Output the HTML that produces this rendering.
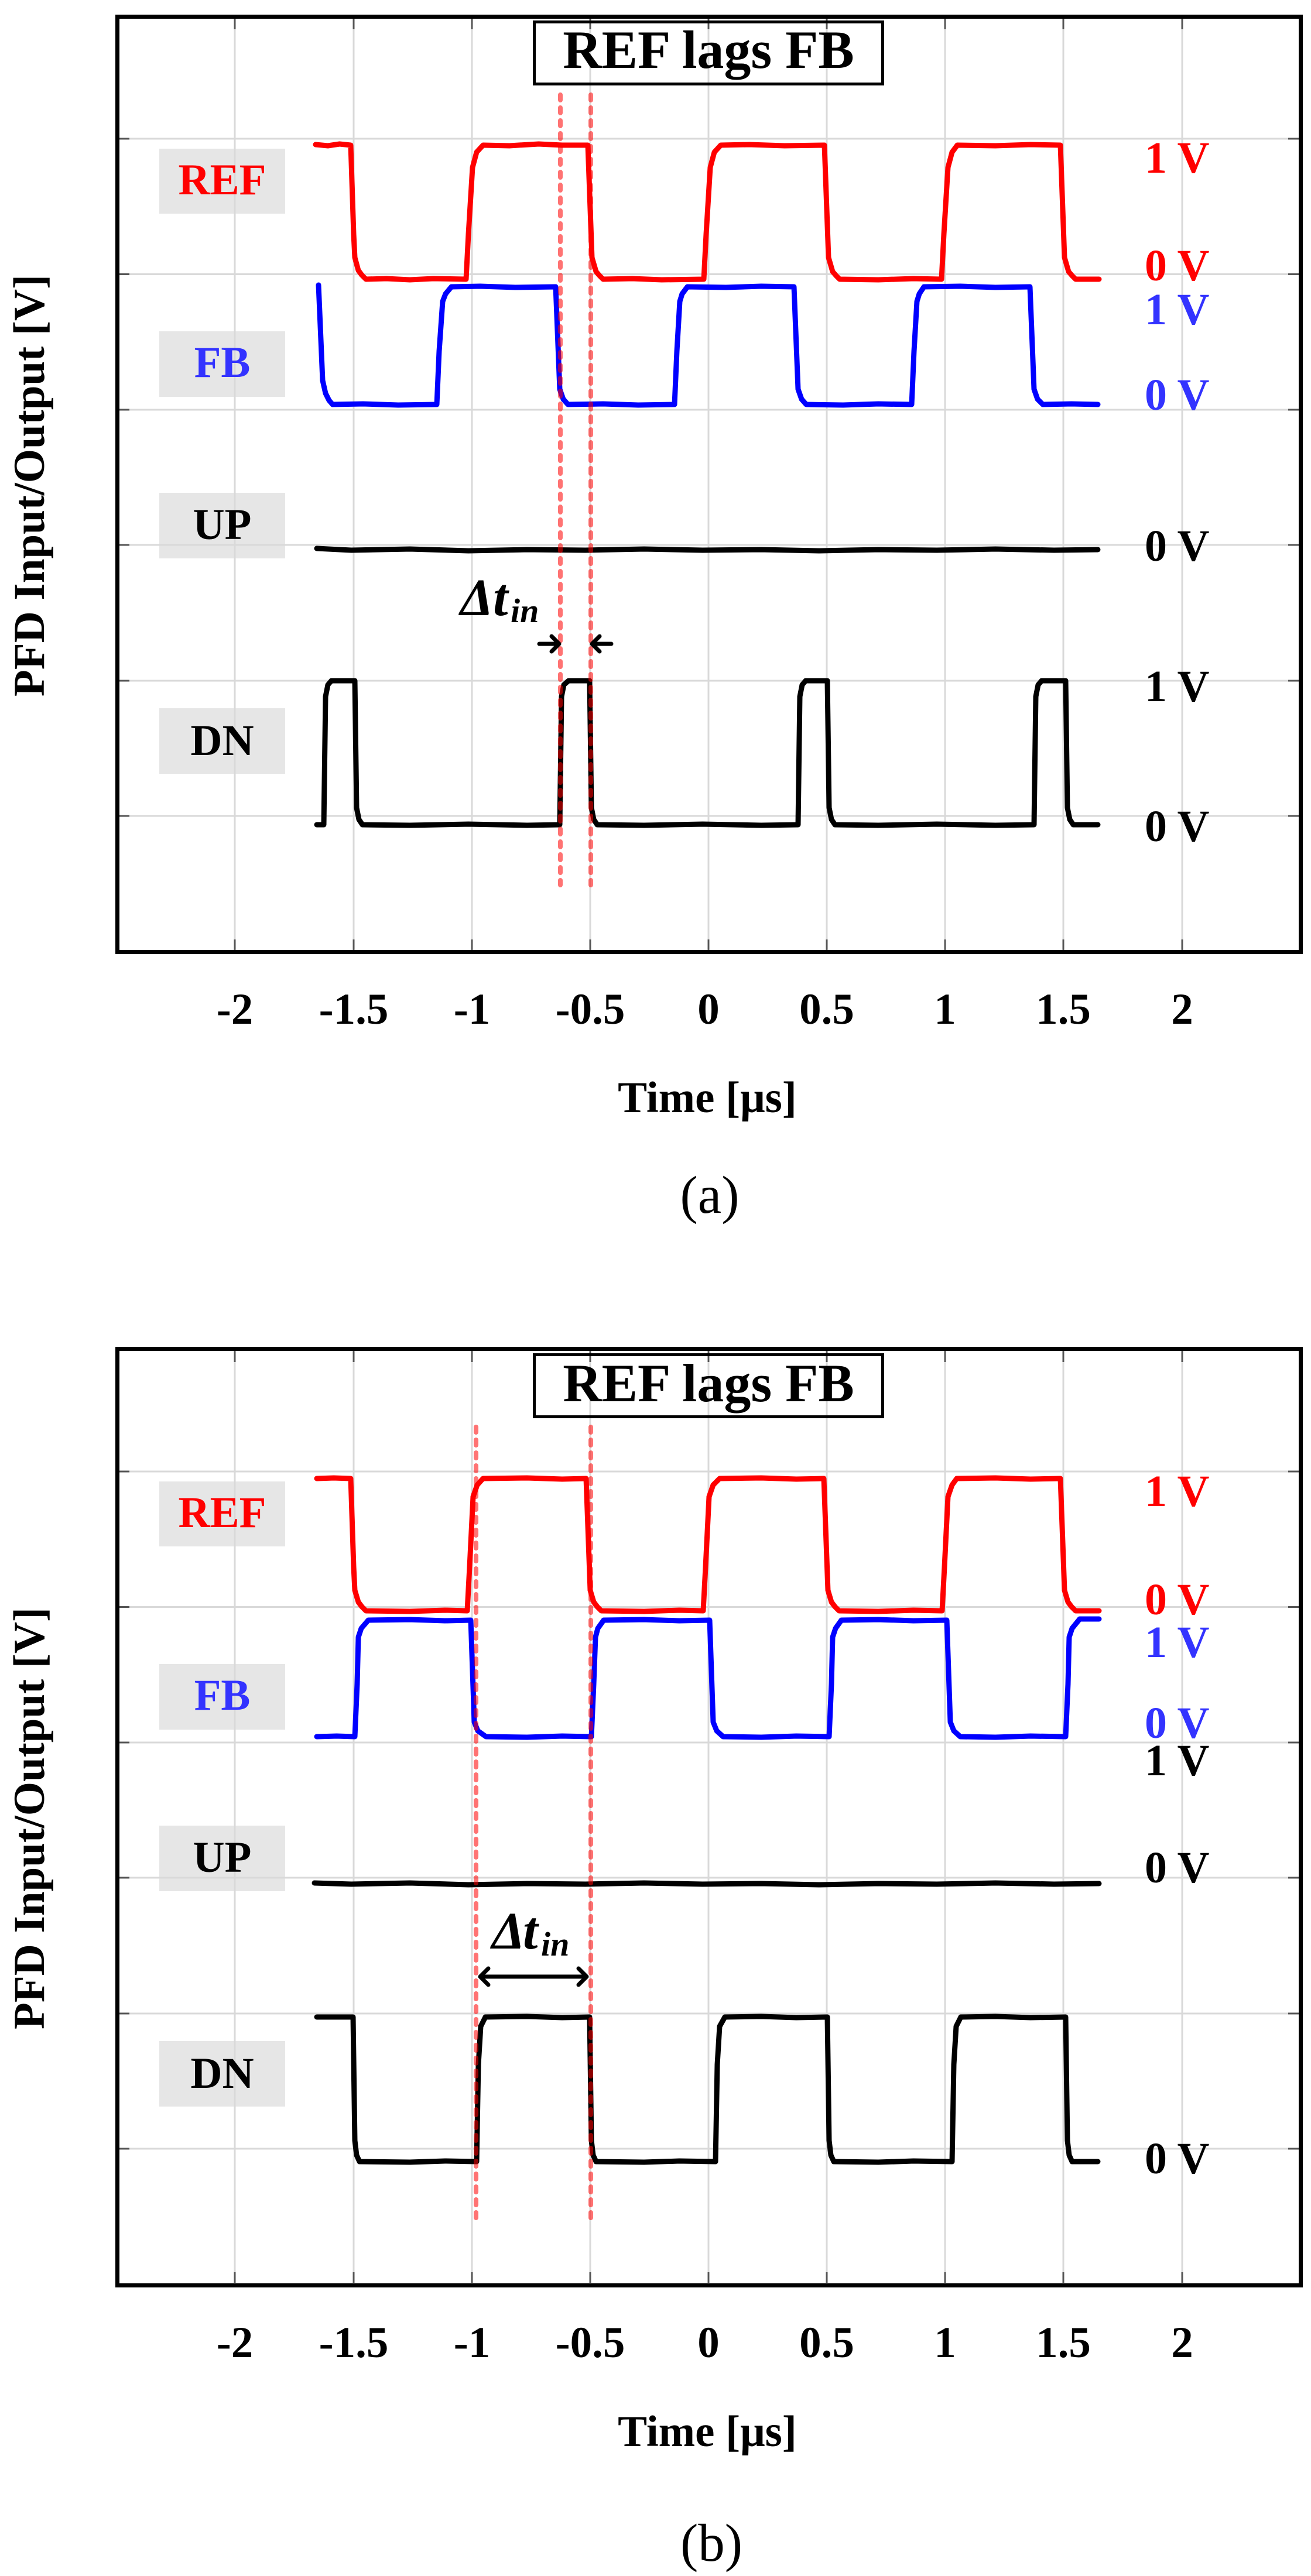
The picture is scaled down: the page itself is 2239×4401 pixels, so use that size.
<!DOCTYPE html>
<html>
<head>
<meta charset="utf-8">
<style>
  html,body{margin:0;padding:0;background:#fff;}
  svg{display:block;}
  text{font-family:"Liberation Serif","Times New Roman",serif;}
</style>
</head>
<body>
<svg xmlns="http://www.w3.org/2000/svg" xmlns:xlink="http://www.w3.org/1999/xlink" width="2239" height="4401" viewBox="0 0 2239 4401">
  <rect x="0" y="0" width="2239" height="4401" fill="#fff"/>
  <defs>
    <g id="boxes">
      <rect x="272" y="254" width="215" height="111" fill="#e6e6e6"/>
      <rect x="272" y="566" width="215" height="112" fill="#e6e6e6"/>
      <rect x="272" y="842" width="215" height="112" fill="#e6e6e6"/>
      <rect x="272" y="1210" width="215" height="112" fill="#e6e6e6"/>
    </g>
    <g id="grid">
      <g stroke="#d9d9d9" stroke-width="3">
        <line x1="401" y1="31" x2="401" y2="1623"/>
        <line x1="604" y1="31" x2="604" y2="1623"/>
        <line x1="806" y1="31" x2="806" y2="1623"/>
        <line x1="1008" y1="31" x2="1008" y2="1623"/>
        <line x1="1210" y1="31" x2="1210" y2="1623"/>
        <line x1="1412" y1="31" x2="1412" y2="1623"/>
        <line x1="1614" y1="31" x2="1614" y2="1623"/>
        <line x1="1816" y1="31" x2="1816" y2="1623"/>
        <line x1="2019" y1="31" x2="2019" y2="1623"/>
        <line x1="204" y1="237" x2="2218" y2="237"/>
        <line x1="204" y1="468.5" x2="2218" y2="468.5"/>
        <line x1="204" y1="700" x2="2218" y2="700"/>
        <line x1="204" y1="931" x2="2218" y2="931"/>
        <line x1="204" y1="1163" x2="2218" y2="1163"/>
        <line x1="204" y1="1394" x2="2218" y2="1394"/>
      </g>
      <g stroke="#555" stroke-width="3">
        <path d="M401 31V50M604 31V50M806 31V50M1008 31V50M1210 31V50M1412 31V50M1614 31V50M1816 31V50M2019 31V50"/>
        <path d="M401 1623V1605M604 1623V1605M806 1623V1605M1008 1623V1605M1210 1623V1605M1412 1623V1605M1614 1623V1605M1816 1623V1605M2019 1623V1605"/>
        <path d="M204 237H221M204 468.5H221M204 700H221M204 931H221M204 1163H221M204 1394H221"/>
        <path d="M2218 237H2200M2218 468.5H2200M2218 700H2200M2218 931H2200M2218 1163H2200M2218 1394H2200"/>
      </g>
    </g>
  </defs>

  <!-- ================= PANEL (a) ================= -->
  <g>
    <use xlink:href="#boxes"/>
    <use xlink:href="#grid"/>

    <!-- REF -->
    <polyline fill="none" stroke="#ff0000" stroke-width="9" stroke-linejoin="round" stroke-linecap="round"
      points="539,247 560,249 580,246 599,248 604,400 606,440 612,462 618,470 625,477 660,476 700,478 740,476 796,477 800,400 807,286 814,260 825,248 870,249 920,246 960,248 1004,248 1011,440 1018,464 1024,471 1030,477 1080,476 1130,478 1202,477 1206,400 1213,286 1220,260 1231,248 1280,247 1340,249 1408,248 1415,440 1422,464 1428,471 1434,477 1500,478 1560,476 1608,477 1612,400 1619,286 1626,260 1635,248 1700,249 1760,247 1811,248 1818,440 1825,464 1831,471 1837,477 1877,477"/>
    <!-- FB -->
    <polyline fill="none" stroke="#0000ff" stroke-width="9" stroke-linejoin="round" stroke-linecap="round"
      points="544,487 551,650 556,672 562,684 568,691 620,690 680,692 746,691 750,600 756,515 761,502 771,490 820,489 880,491 949,490 956,665 962,682 970,691 1030,690 1090,692 1152,691 1156,600 1161,515 1165,502 1174,490 1240,491 1300,489 1356,490 1363,665 1369,682 1377,691 1440,692 1500,690 1557,691 1561,600 1566,515 1570,502 1578,490 1640,489 1700,491 1759,490 1766,665 1772,682 1781,691 1830,690 1875,691"/>
    <!-- UP -->
    <polyline fill="none" stroke="#000" stroke-width="9" stroke-linejoin="round" stroke-linecap="round"
      points="541,937 600,940 700,938 800,941 900,939 1000,940 1100,938 1200,940 1300,939 1400,941 1500,939 1600,940 1700,938 1800,940 1875,939"/>
    <!-- DN -->
    <polyline fill="none" stroke="#000" stroke-width="9" stroke-linejoin="round" stroke-linecap="round"
      points="541,1409 553,1409 556,1190 560,1170 566,1163 606,1163 609,1380 613,1400 619,1409 700,1410 800,1408 900,1410 956,1409 959,1190 963,1170 971,1163 1007,1163 1010,1380 1014,1400 1020,1409 1100,1410 1200,1408 1300,1410 1363,1409 1366,1190 1370,1170 1376,1163 1413,1163 1416,1380 1420,1400 1426,1409 1500,1410 1600,1408 1700,1410 1766,1409 1769,1190 1773,1170 1779,1163 1820,1163 1823,1380 1827,1400 1833,1409 1875,1409"/>

    <!-- dashed markers -->
    <g stroke="#ff0000" stroke-opacity="0.55" stroke-width="8" stroke-linecap="round" stroke-dasharray="9 13">
      <line x1="957" y1="162" x2="957" y2="1512"/>
      <line x1="1009" y1="162" x2="1009" y2="1512"/>
    </g>

    <!-- arrows -->
    <g stroke="#000" stroke-width="7" fill="none" stroke-linecap="round" stroke-linejoin="round">
      <line x1="921" y1="1100" x2="953" y2="1100"/>
      <polyline points="942,1087 955,1100 942,1113"/>
      <line x1="1044" y1="1100" x2="1013" y2="1100"/>
      <polyline points="1024,1087 1011,1100 1024,1113"/>
    </g>

    <!-- frame -->
    <rect x="200.5" y="28.5" width="2021" height="1598" fill="none" stroke="#000" stroke-width="7"/>

    <!-- title box -->
    <rect x="912.5" y="37.5" width="595" height="106" fill="none" stroke="#000" stroke-width="5"/>
    <text x="1210" y="116" font-size="92" font-weight="bold" text-anchor="middle" fill="#000">REF lags FB</text>

    <!-- channel labels -->
    <g font-size="75" font-weight="bold" text-anchor="middle">
      <text x="379.5" y="332" fill="#ff0000">REF</text>
      <text x="379.5" y="644" fill="#3333ff">FB</text>
      <text x="379.5" y="921" fill="#000">UP</text>
      <text x="379.5" y="1290" fill="#000">DN</text>
    </g>

    <!-- right level labels -->
    <g font-size="76" font-weight="bold">
      <text x="1955" y="295" fill="#ff0000">1 V</text>
      <text x="1955" y="479" fill="#ff0000">0 V</text>
      <text x="1955" y="554" fill="#3333ff">1 V</text>
      <text x="1955" y="700" fill="#3333ff">0 V</text>
      <text x="1955" y="958" fill="#000">0 V</text>
      <text x="1955" y="1198" fill="#000">1 V</text>
      <text x="1955" y="1437" fill="#000">0 V</text>
    </g>

    <!-- delta t label -->
    <text y="1051" font-size="90" font-weight="bold" font-style="italic" fill="#000"><tspan x="786">Δ</tspan><tspan x="842" font-size="92">t</tspan><tspan x="872" y="1063" font-size="58">in</tspan></text>

    <!-- x tick labels -->
    <g font-size="75" font-weight="bold" text-anchor="middle" fill="#000">
      <text x="401" y="1749">-2</text>
      <text x="604" y="1749">-1.5</text>
      <text x="806" y="1749">-1</text>
      <text x="1008" y="1749">-0.5</text>
      <text x="1210" y="1749">0</text>
      <text x="1412" y="1749">0.5</text>
      <text x="1614" y="1749">1</text>
      <text x="1816" y="1749">1.5</text>
      <text x="2019" y="1749">2</text>
    </g>
    <text x="1208" y="1900" font-size="75" font-weight="bold" text-anchor="middle" fill="#000">Time [μs]</text>
    <text transform="translate(75,829.5) rotate(-90)" x="0" y="0" font-size="75" font-weight="bold" text-anchor="middle" fill="#000">PFD Input/Output [V]</text>
  </g>

  <text x="1212" y="2072" font-size="91" text-anchor="middle" fill="#000">(a)</text>

  <!-- ================= PANEL (b) ================= -->
  <g transform="translate(0,2277)">
    <use xlink:href="#boxes"/>
    <use xlink:href="#grid"/>

    <!-- REF -->
    <polyline fill="none" stroke="#ff0000" stroke-width="9" stroke-linejoin="round" stroke-linecap="round"
      points="541,249 570,248 599,249 604,400 606,440 612,460 618,468 625,475 700,476 760,474 798,475 802,400 808,280 815,260 825,249 900,248 960,250 1001,249 1008,440 1014,460 1020,468 1027,475 1100,476 1160,474 1201,475 1205,400 1211,280 1218,260 1229,249 1300,248 1360,250 1407,249 1414,440 1420,460 1426,468 1433,475 1500,476 1560,474 1609,475 1613,400 1619,280 1626,260 1634,249 1700,248 1760,250 1811,249 1818,440 1824,460 1830,468 1837,475 1877,475"/>
    <!-- FB -->
    <polyline fill="none" stroke="#0000ff" stroke-width="9" stroke-linejoin="round" stroke-linecap="round"
      points="541,690 575,689 606,690 610,600 612,520 617,505 629,491 700,490 760,492 804,491 810,665 816,680 830,690 900,691 960,689 1010,690 1014,600 1017,520 1021,505 1031,491 1100,490 1160,492 1212,491 1218,665 1224,680 1235,690 1300,691 1360,689 1416,690 1420,600 1422,520 1427,505 1437,491 1500,490 1560,492 1617,491 1623,665 1629,680 1640,690 1700,691 1760,689 1820,690 1824,600 1826,520 1831,505 1844,489 1877,489"/>
    <!-- UP -->
    <polyline fill="none" stroke="#000" stroke-width="9" stroke-linejoin="round" stroke-linecap="round"
      points="537,940 600,942 700,940 800,943 900,941 1000,942 1100,940 1200,942 1300,941 1400,943 1500,941 1600,942 1700,940 1800,942 1877,941"/>
    <!-- DN -->
    <polyline fill="none" stroke="#000" stroke-width="9" stroke-linejoin="round" stroke-linecap="round"
      points="541,1169 603,1169 606,1380 609,1405 614,1416 700,1417 760,1415 814,1416 817,1250 821,1185 829,1169 900,1168 960,1170 1007,1169 1010,1380 1013,1405 1018,1416 1100,1417 1160,1415 1222,1416 1225,1250 1229,1185 1238,1169 1300,1168 1360,1170 1413,1169 1416,1380 1419,1405 1424,1416 1500,1417 1560,1415 1626,1416 1629,1250 1633,1185 1641,1169 1700,1168 1760,1170 1820,1169 1823,1380 1826,1405 1831,1416 1875,1416"/>

    <!-- dashed markers -->
    <g stroke="#ff0000" stroke-opacity="0.55" stroke-width="8" stroke-linecap="round" stroke-dasharray="9 13">
      <line x1="813" y1="161" x2="813" y2="1514"/>
      <line x1="1009" y1="161" x2="1009" y2="1514"/>
    </g>

    <!-- double arrow -->
    <g stroke="#000" stroke-width="7" fill="none" stroke-linecap="round" stroke-linejoin="round">
      <line x1="821" y1="1100" x2="1001" y2="1100"/>
      <polyline points="834,1086 820,1100 834,1114"/>
      <polyline points="988,1086 1002,1100 988,1114"/>
    </g>

    <!-- frame -->
    <rect x="200.5" y="27.5" width="2021" height="1600" fill="none" stroke="#000" stroke-width="7"/>

    <!-- title box -->
    <rect x="912.5" y="37.5" width="595" height="106" fill="none" stroke="#000" stroke-width="5"/>
    <text x="1210" y="117" font-size="92" font-weight="bold" text-anchor="middle" fill="#000">REF lags FB</text>

    <!-- channel labels -->
    <g font-size="75" font-weight="bold" text-anchor="middle">
      <text x="379.5" y="332" fill="#ff0000">REF</text>
      <text x="379.5" y="644" fill="#3333ff">FB</text>
      <text x="379.5" y="921" fill="#000">UP</text>
      <text x="379.5" y="1290" fill="#000">DN</text>
    </g>

    <!-- right level labels -->
    <g font-size="76" font-weight="bold">
      <text x="1955" y="296" fill="#ff0000">1 V</text>
      <text x="1955" y="481" fill="#ff0000">0 V</text>
      <text x="1955" y="554" fill="#3333ff">1 V</text>
      <text x="1955" y="692" fill="#3333ff">0 V</text>
      <text x="1955" y="756" fill="#000">1 V</text>
      <text x="1955" y="939" fill="#000">0 V</text>
      <text x="1955" y="1436" fill="#000">0 V</text>
    </g>

    <!-- delta t label -->
    <text y="1052" font-size="90" font-weight="bold" font-style="italic" fill="#000"><tspan x="840">Δ</tspan><tspan x="893" font-size="92">t</tspan><tspan x="924" y="1064" font-size="58">in</tspan></text>

    <!-- x tick labels -->
    <g font-size="75" font-weight="bold" text-anchor="middle" fill="#000">
      <text x="401" y="1750">-2</text>
      <text x="604" y="1750">-1.5</text>
      <text x="806" y="1750">-1</text>
      <text x="1008" y="1750">-0.5</text>
      <text x="1210" y="1750">0</text>
      <text x="1412" y="1750">0.5</text>
      <text x="1614" y="1750">1</text>
      <text x="1816" y="1750">1.5</text>
      <text x="2019" y="1750">2</text>
    </g>
    <text x="1208" y="1902" font-size="75" font-weight="bold" text-anchor="middle" fill="#000">Time [μs]</text>
    <text transform="translate(75,829.5) rotate(-90)" x="0" y="0" font-size="75" font-weight="bold" text-anchor="middle" fill="#000">PFD Input/Output [V]</text>
  </g>

  <text x="1215" y="4375" font-size="91" text-anchor="middle" fill="#000">(b)</text>
</svg>
</body>
</html>
